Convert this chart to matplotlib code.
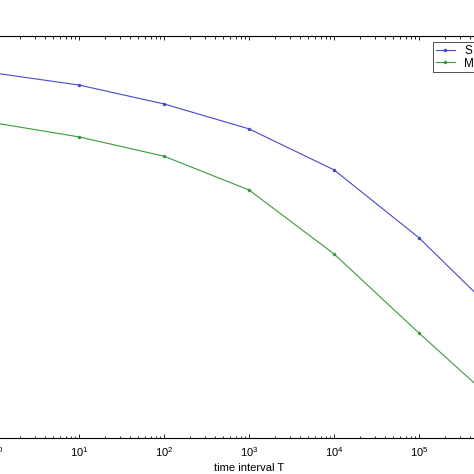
import numpy as np
import matplotlib
matplotlib.use('Agg')
import matplotlib.pyplot as plt

plt.rcParams['font.family'] = ['Liberation Sans', 'DejaVu Sans']

# time interval T (log scale)
T = [1e0, 1e1, 1e2, 1e3, 1e4, 1e5, 1e6]
# series values (y axis is cut off in the reference, values read as fractions of the axis height)
s_vals = [0.908, 0.878, 0.831, 0.769, 0.667, 0.498, 0.291]
m_vals = [0.784, 0.749, 0.701, 0.617, 0.458, 0.261, 0.070]
labels = ['S', 'M']

W, H = 474, 474
fig = plt.figure(figsize=(W / 100, H / 100), dpi=100)
# the reference is a crop: the axes run past the left and right edges
left, right, top, bottom = -6, 504, 36, 438
ax = fig.add_axes([left / W, 1 - bottom / H, (right - left) / W, (bottom - top) / H])

ax.plot(T, s_vals, color='#4848cc', lw=0.8, marker='.', ms=3, label=labels[0])
ax.plot(T, m_vals, color='#3a9a3a', lw=0.8, marker='.', ms=3, label=labels[1])

ax.set_xscale('log')
ax.set_xlim(1e0, 1e6)
ax.set_ylim(0, 1)
ax.set_xlabel('time interval T', fontsize=8, labelpad=3)

ax.tick_params(axis='both', which='both', direction='in', top=True, right=True, labelsize=8)
ax.tick_params(axis='x', which='major', pad=5)
ax.tick_params(which='major', length=3, width=0.6)
ax.tick_params(which='minor', length=1.8, width=0.6)
for sp in ax.spines.values():
    sp.set_linewidth(0.8)

leg = ax.legend(loc='upper left', bbox_to_anchor=(433 / W, 1 - 42 / H),
                bbox_transform=fig.transFigure, borderaxespad=0, fontsize=8.5,
                frameon=True, fancybox=False, edgecolor='black', handlelength=1.6,
                handletextpad=0.8, borderpad=0.25, labelspacing=0.05)
leg.get_frame().set_linewidth(0.6)

fig.savefig('out.png', dpi=100)
